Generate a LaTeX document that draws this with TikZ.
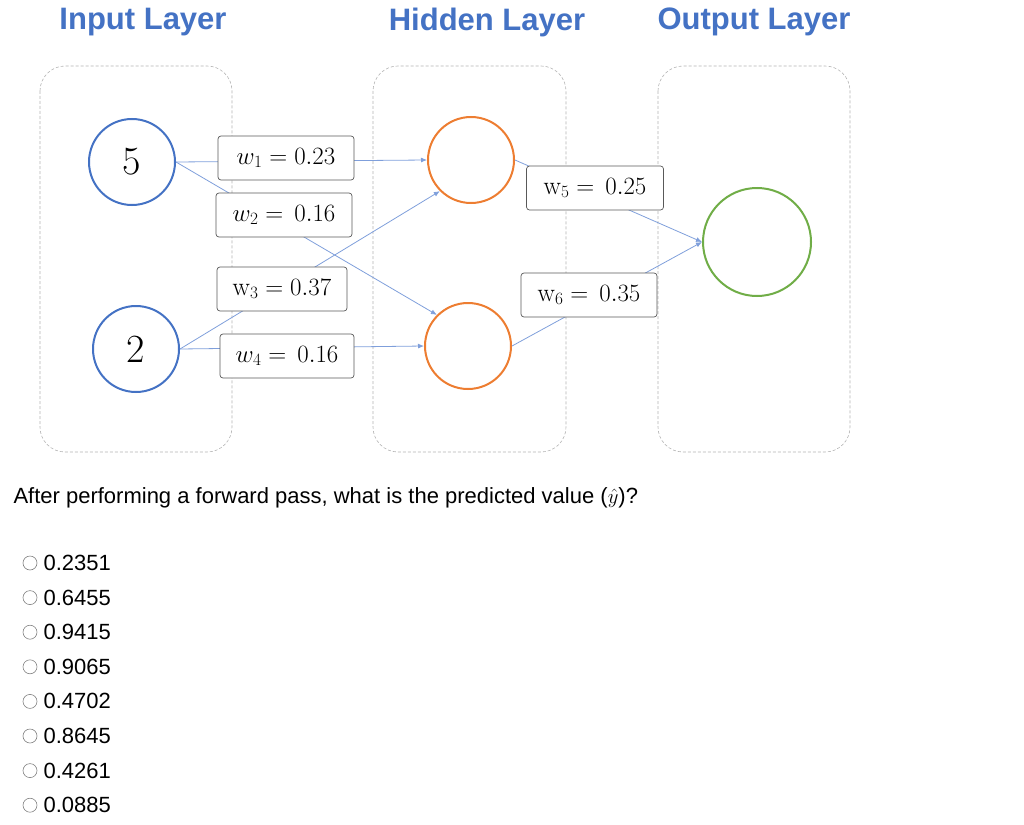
\documentclass[tikz,border=0pt]{standalone}
\usepackage{fontspec}
\setsansfont{Liberation Sans}
\usetikzlibrary{arrows.meta}
\definecolor{ttl}{HTML}{4472C4}
\definecolor{edge}{HTML}{7F9FDB}
\definecolor{inb}{HTML}{4472C4}
\definecolor{hid}{HTML}{ED7D31}
\definecolor{outg}{HTML}{70AD47}
\tikzset{
  panel/.style={draw=gray!60, densely dashed, rounded corners=25pt, line width=0.6pt},
  title/.style={font=\sffamily\bfseries\fontsize{31}{34}\selectfont, text=ttl},
  wbox/.style={draw=gray!70!black, fill=white, rounded corners=3pt, minimum width=136pt, minimum height=44pt, font=\fontsize{26}{28}\selectfont, line width=0.7pt, inner sep=2pt},
  conn/.style={draw=edge, line width=0.8pt},
  arr/.style={conn, -{Latex[length=6pt,width=5pt]}},
  opt/.style={anchor=west, font=\sffamily\fontsize{22}{24}\selectfont},
  radio/.style={draw=gray, circle, minimum size=14pt, inner sep=0pt, line width=0.6pt},
  num/.style={font=\fontsize{40}{42}\selectfont}
}
\begin{document}
\begin{tikzpicture}[x=1pt,y=-1pt]
\useasboundingbox (0,0) rectangle (1024,824);
\node[title] (t1) at (143,22) {Input Layer};
\node[title] (t2) at (487,22) {Hidden Layer};
\node[title] (t3) at (754,22) {Output Layer};
\draw[panel] (40,66) rectangle (232,452);
\draw[panel] (373,66) rectangle (566,452);
\draw[panel] (658,66) rectangle (850,452);
\node[draw=inb, line width=2pt, circle, minimum size=86pt, inner sep=0pt, num] (i1) at (132,162) {5};
\node[draw=inb, line width=2pt, circle, minimum size=86pt, inner sep=0pt, num] (i2) at (136,349) {2};
\node[draw=hid, line width=2pt, circle, minimum size=86pt, inner sep=0pt] (h1) at (471,160) {};
\node[draw=hid, line width=2pt, circle, minimum size=86pt, inner sep=0pt] (h2) at (468,346) {};
\node[draw=outg, line width=2pt, circle, minimum size=108pt, inner sep=0pt] (o) at (757,242) {};
\draw[arr] (i1.east) -- (h1.west);
\draw[arr] (i1.east) -- (h2.north west);
\draw[arr] (i2.east) -- (h1.south west);
\draw[arr] (i2.east) -- (h2.west);
\draw[arr] (h1.east) -- (o.west);
\draw[arr] (h2.east) -- (o.west);
\node[wbox] (w1) at (286,158) {$w_1 = 0.23$};
\node[wbox] (w2) at (284,215) {$w_2 =\, 0.16$};
\node[wbox, minimum width=130pt] (w3) at (282,289) {$\mathrm{w}_3 = 0.37$};
\node[wbox, minimum width=134pt] (w4) at (287,356) {$w_4 =\, 0.16$};
\node[wbox, minimum width=137pt] (w5) at (595,188) {$\mathrm{w}_5 =\, 0.25$};
\node[wbox] (w6) at (589,295) {$\mathrm{w}_6 =\, 0.35$};
\node[anchor=west, font=\sffamily\fontsize{22}{24}\selectfont] (q) at (10,498) {After performing a forward pass, what is the predicted value (\raisebox{0pt}{$\hat{y}$})?};
\foreach \v [count=\i] in {0.2351,0.6455,0.9415,0.9065,0.4702,0.8645,0.4261,0.0885}{
  \node[radio] (r\i) at (30,{563+34.6*(\i-1)}) {};
  \node[opt] (l\i) at (40,{563+34.6*(\i-1)}) {\v};
}
\end{tikzpicture}
\end{document}
